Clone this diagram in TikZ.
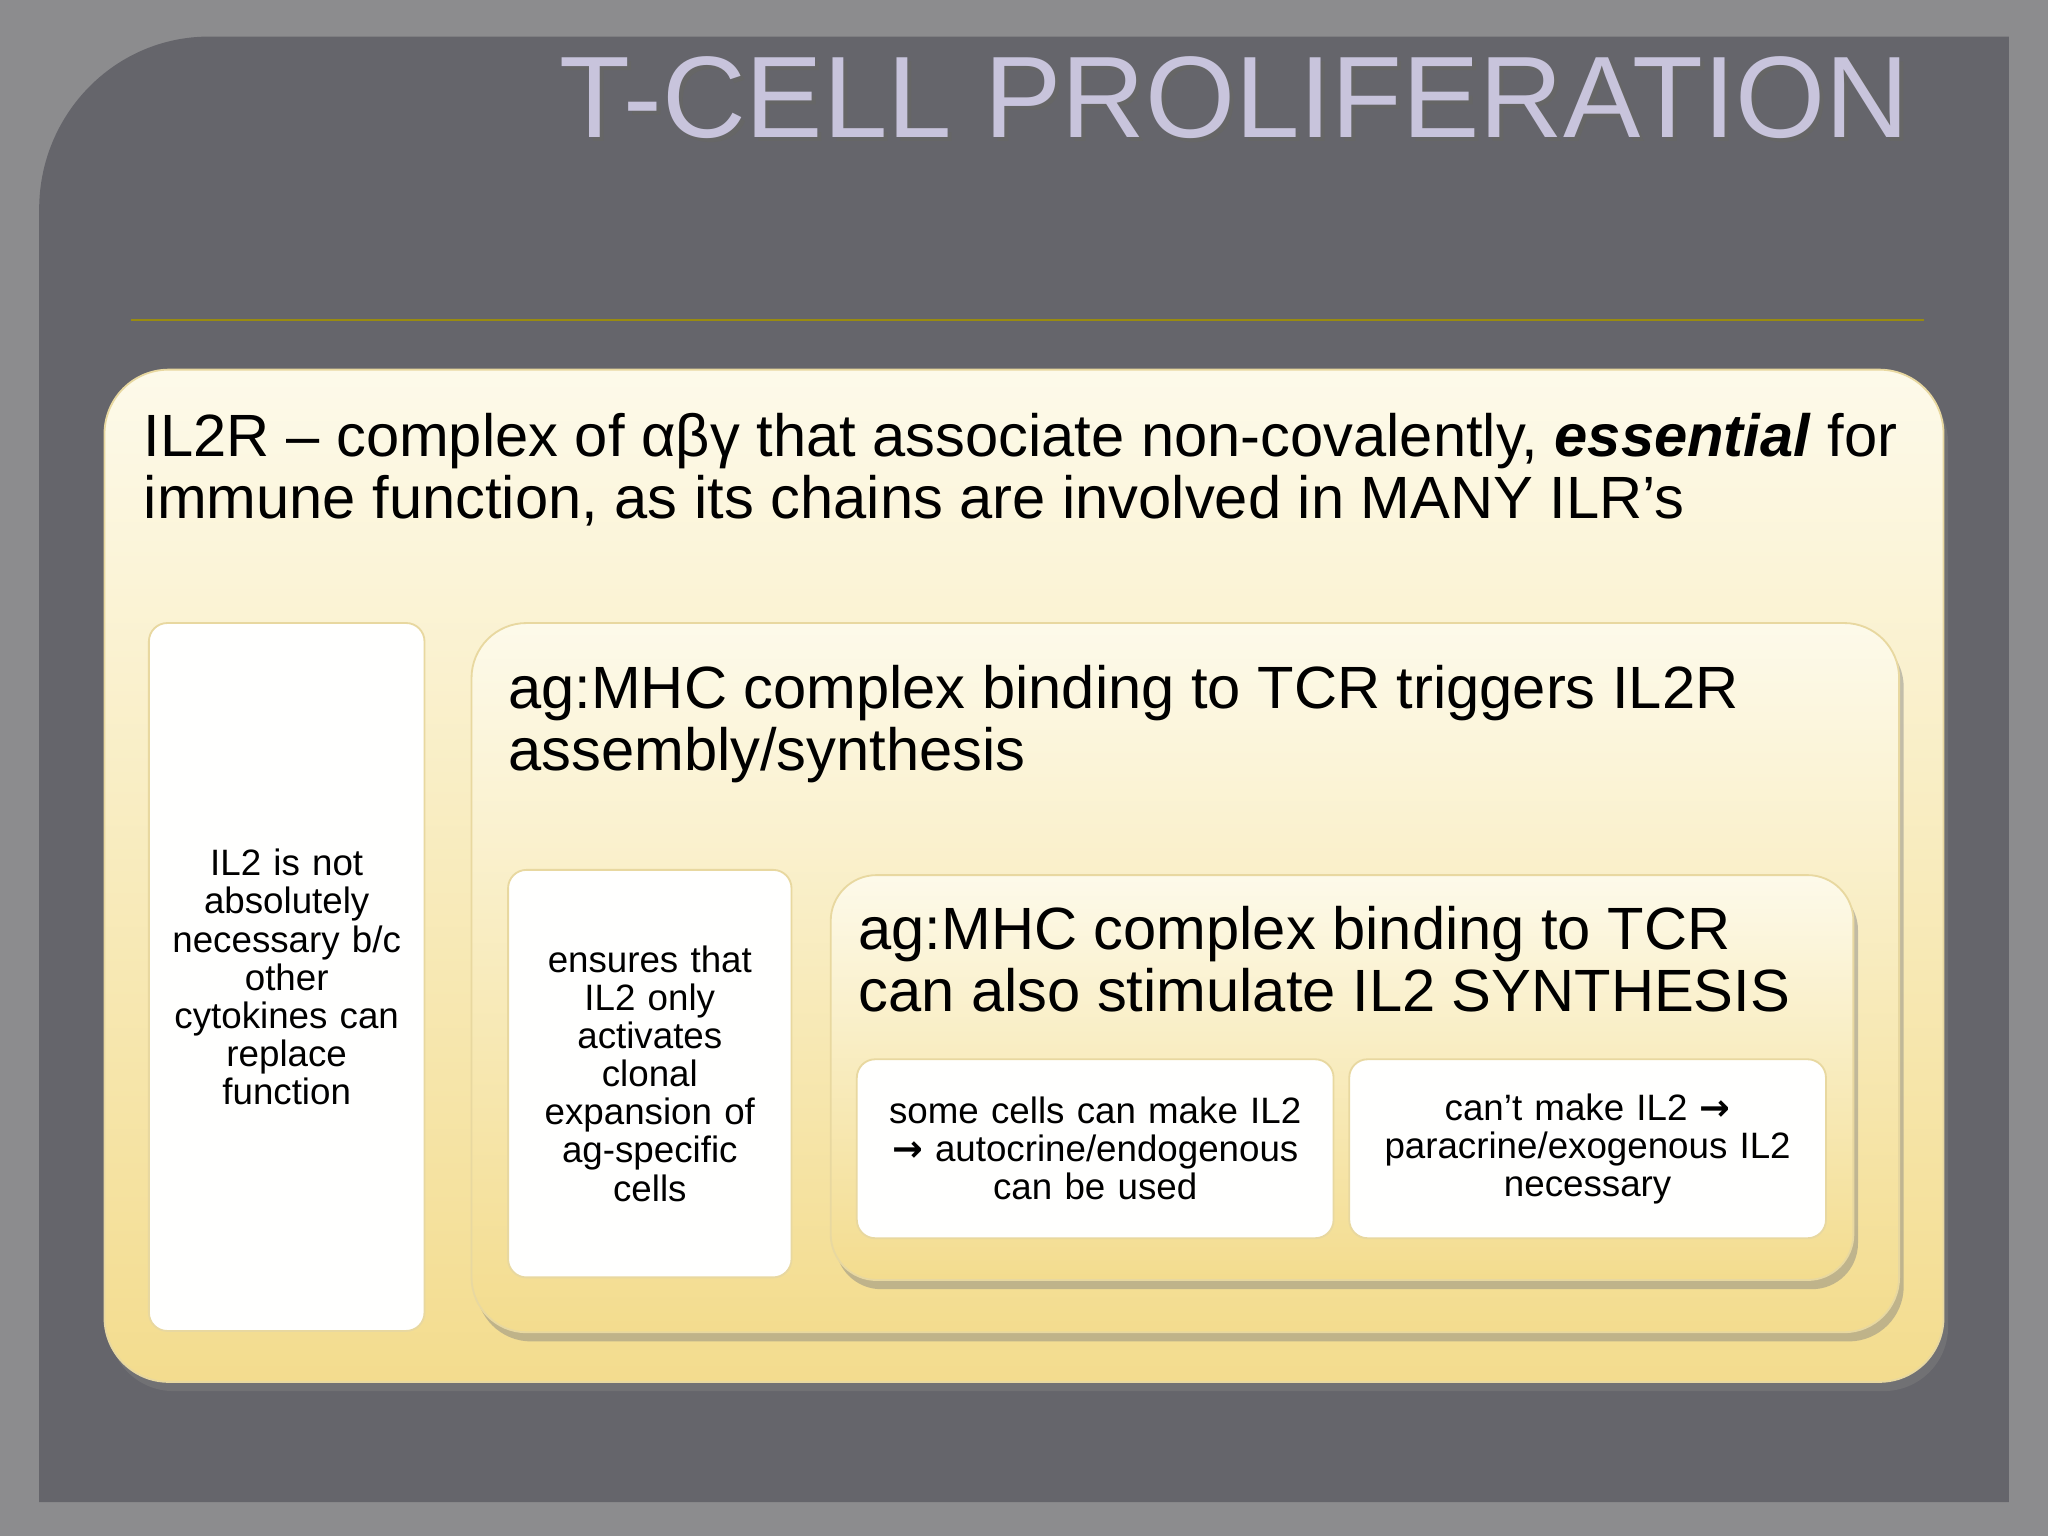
\documentclass[tikz,border=0pt]{standalone}
\usepackage{fontspec}
\setmainfont{Liberation Sans}
\newfontfamily\arrowfont{DejaVu Sans}
\newcommand{\rarr}{{\arrowfont\bfseries →}}
\usetikzlibrary{shadows}
\definecolor{bgout}{HTML}{8C8C8E}
\definecolor{slate}{HTML}{65656B}
\definecolor{cream}{HTML}{FDFAEA}
\definecolor{gold}{HTML}{F3DC8E}
\definecolor{edge}{HTML}{E8D8A0}
\definecolor{titlec}{HTML}{C8C4DC}
\tikzset{
  panel/.style={rounded corners=18pt, top color=cream, bottom color=gold, draw=edge, line width=0.8pt,
    drop shadow={shadow xshift=2pt,shadow yshift=-4pt,opacity=0.45}},
  wbox/.style={rounded corners=8pt, fill=white!97!cream, draw=edge, line width=0.8pt, align=center, text width=#1, inner sep=2pt, font=\fontsize{16}{16.6}\selectfont},
  big/.style={anchor=north west, align=left, font=\fontsize{26}{27}\selectfont}
}
\begin{document}
\begin{tikzpicture}[x=0.02cm,y=-0.02cm]
\fill[bgout] (0,0) rectangle (1568,1176);
\fill[slate] (30,1150) -- (30,160) to[out=90,in=180] (160,28) -- (1538,28) -- (1538,1150) -- cycle;
\node[anchor=east, text=black!60, font=\fontsize{50.5}{51}\selectfont] at (1471,78) {T-CELL PROLIFERATION};
\node[anchor=east, text=titlec, font=\fontsize{50.5}{51}\selectfont] (title) at (1468,75) {T-CELL PROLIFERATION};
\draw[color=olive!80!brown, line width=0.8pt] (100,245) coordinate (la) -- (1473,245) coordinate (lb);
\draw[panel, rounded corners=28pt] (80,283) rectangle (1488,1058);
\node[big] (t1) at (104,310) {IL2R – complex of αβγ that associate non-covalently, \textbf{\textit{essential}} for\\immune function, as its chains are involved in MANY ILR’s};
\node[wbox=112pt, minimum width=211*0.02cm, minimum height=542*0.02cm] (left) at (219.5,748) {IL2 is not\\absolutely\\necessary b/c\\other\\cytokines can\\replace\\function};
\draw[panel, rounded corners=24pt] (361,477) rectangle (1454,1020);
\node[big] (t2) at (383,503) {ag:MHC complex binding to TCR triggers IL2R\\assembly/synthesis};
\node[wbox=115pt, minimum width=217*0.02cm, minimum height=312*0.02cm] (ens) at (497.5,822) {ensures that\\IL2 only\\activates\\clonal\\expansion of\\ag-specific\\cells};
\draw[panel, rounded corners=20pt] (636,670) rectangle (1419,980);
\node[big] (t3) at (651,688) {ag:MHC complex binding to TCR\\can also stimulate IL2 SYNTHESIS};
\node[wbox=198pt, minimum width=365*0.02cm, minimum height=137*0.02cm] (b1) at (838.5,879.5) {some cells can make IL2\\\rarr\ autocrine/endogenous\\can be used};
\node[wbox=198pt, minimum width=365*0.02cm, minimum height=137*0.02cm] (b2) at (1215.5,879.5) {can’t make IL2 \rarr\\paracrine/exogenous IL2\\necessary};
\end{tikzpicture}
\end{document}
